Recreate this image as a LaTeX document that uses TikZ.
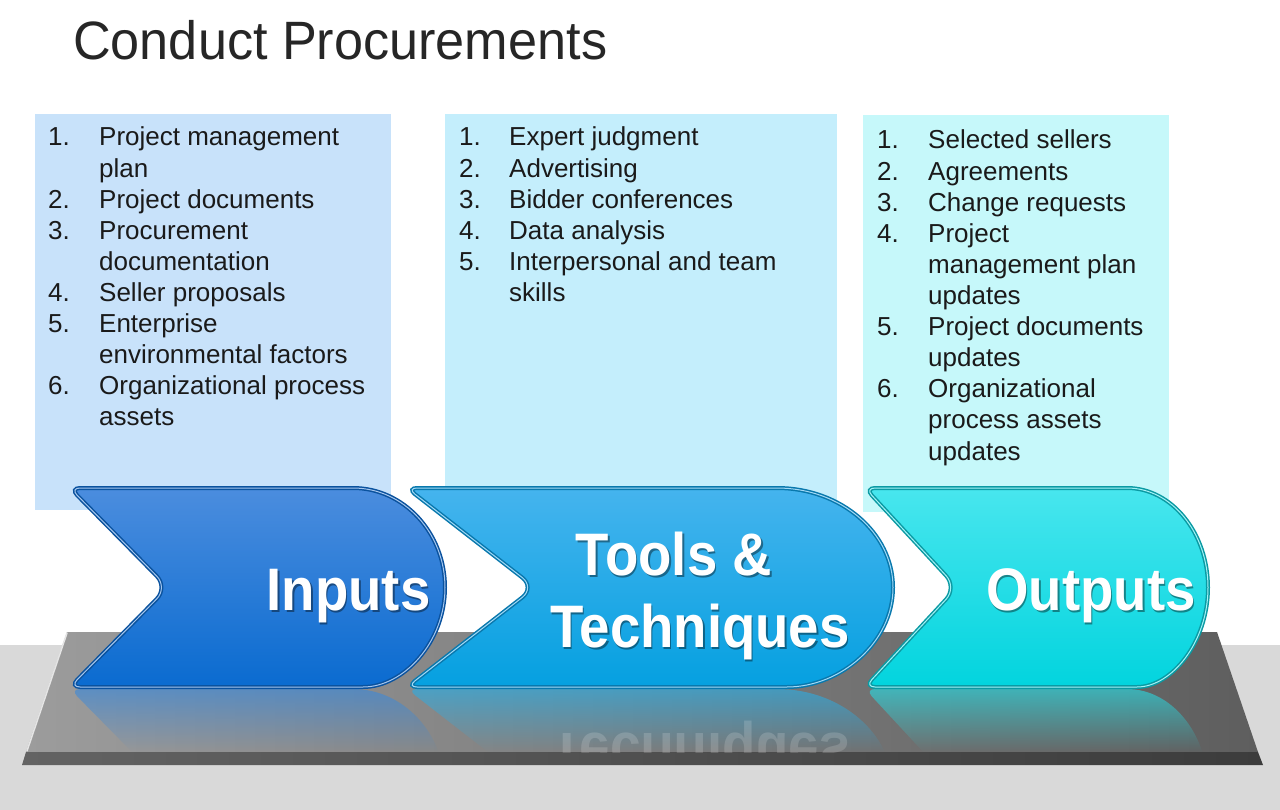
\documentclass[tikz,border=0pt]{standalone}
\usepackage{fontspec}
\setmainfont{Liberation Sans}
\newfontfamily\lblfont[FakeStretch=0.91]{Liberation Sans}
\newfontfamily\ttlfont[FakeStretch=0.967]{Liberation Sans}
\usetikzlibrary{fadings}

\definecolor{boxA}{HTML}{C8E2FA}
\definecolor{boxB}{HTML}{C4EEFC}
\definecolor{boxC}{HTML}{C6F8FA}
\definecolor{inTop}{HTML}{4B8DDE}
\definecolor{inBot}{HTML}{0A6BD0}
\definecolor{inEdge}{HTML}{0A529E}
\definecolor{tlTop}{HTML}{45B4EE}
\definecolor{tlBot}{HTML}{05A0E0}
\definecolor{tlEdge}{HTML}{0878AD}
\definecolor{ouTop}{HTML}{48E6EE}
\definecolor{ouBot}{HTML}{02D4DE}
\definecolor{ouEdge}{HTML}{0A9AA3}
\definecolor{plL}{HTML}{9C9C9C}
\definecolor{plR}{HTML}{5E5E5E}
\definecolor{plEdge}{HTML}{3C3C3C}
\definecolor{floorc}{HTML}{D9D9D9}
\definecolor{txtc}{HTML}{1A1A1A}
\definecolor{ttlc}{HTML}{262626}

\tikzfading[name=reflfade, top color=transparent!35, bottom color=transparent!100]

% #1 left, #2 notch, #3 straight end, #4 tip, #5 top, #6 mid, #7 bottom
\newcommand{\chevpath}[7]{({#4},{#6}) .. controls ({#4},{#6-0.55*(#6-#5)}) and ({#3+0.55*(#4-#3)},{#5}) .. ({#3},{#5})
  [rounded corners=10] -- ({#1},{#5}) [rounded corners=16] -- ({#2},{#6}) [rounded corners=10] -- ({#1},{#7}) -- ({#3},{#7}) [sharp corners]
  .. controls ({#3+0.55*(#4-#3)},{#7}) and ({#4},{#6+0.55*(#7-#6)}) .. ({#4},{#6}) -- cycle}

\tikzset{
  litem/.style={anchor=base west, inner sep=0pt, text=txtc, font=\fontsize{26}{31}\selectfont},
  lbl/.style={anchor=base, inner sep=0pt, text=white, font=\lblfont\bfseries\fontsize{60}{60}\selectfont},
  lblsh/.style={lbl, text=black, text opacity=0.4},
  chev/.style={double distance=1pt, line width=1.5pt},
}

\begin{document}
\begin{tikzpicture}[x=1pt,y=-1pt]
\useasboundingbox (0,0) rectangle (1280,810);
\fill[white] (0,0) rectangle (1280,810);
% floor
\fill[floorc] (0,645) rectangle (1280,810);

% title
\node[anchor=base west, inner sep=0pt, text=ttlc, font=\ttlfont\fontsize{54}{60}\selectfont] (title) at (73,60) {Conduct Procurements};

% list boxes
\fill[boxA] (35,114) rectangle (391,510);
\fill[boxB] (445,114) rectangle (837,510);
\fill[boxC] (863,115) rectangle (1169,512);

% inputs list
\foreach \t [count=\i from 0] in {Project management, plan, Project documents, Procurement, documentation, Seller proposals, Enterprise, environmental factors, Organizational process, assets}
  \node[litem] (a\i) at (99,{146+31.1*\i}) {\t};
\foreach \n/\r in {1/0,2/2,3/3,4/5,5/6,6/8}
  \node[litem] (an\n) at (48,{146+31.1*\r}) {\n.};

% tools list
\foreach \t [count=\i from 0] in {Expert judgment, Advertising, Bidder conferences, Data analysis, Interpersonal and team, skills}
  \node[litem] (b\i) at (509,{146+31.1*\i}) {\t};
\foreach \n/\r in {1/0,2/1,3/2,4/3,5/4}
  \node[litem] (bn\n) at (459,{146+31.1*\r}) {\n.};

% outputs list
\foreach \t [count=\i from 0] in {Selected sellers, Agreements, Change requests, Project, management plan, updates, Project documents, updates, Organizational, process assets, updates}
  \node[litem] (c\i) at (928,{149+31.1*\i}) {\t};
\foreach \n/\r in {1/0,2/1,3/2,4/3,5/6,6/8}
  \node[litem] (cn\n) at (877,{149+31.1*\r}) {\n.};

% platform
\shade[left color=plL, right color=plR] (67,632) -- (1217,632) -- (1258,752) -- (26,752) -- cycle;
\shade[left color=plEdge!80!white, right color=plEdge] (26,752) -- (1258,752) -- (1263,765) -- (22,765) -- cycle;
\draw[white!80!gray, line width=1.5pt, line cap=round] (67,633) -- (27,751);

% reflections
\begin{scope}
  \clip (60,688) rectangle (1230,752);
  \begin{scope}
    \clip \chevpath{70}{168}{353}{445}{689}{788.5}{888};
    \fill[inBot!80!white, path fading=reflfade] (60,688) rectangle (460,752);
  \end{scope}
  \begin{scope}
    \clip \chevpath{407}{535}{777}{893}{689}{788.5}{888};
    \fill[tlBot!85!white, path fading=reflfade] (400,688) rectangle (900,752);
    \node[lbl, yscale=-1, text opacity=0.16] (techr) at (700,733) {Techniques};
  \end{scope}
  \begin{scope}
    \clip \chevpath{865}{957}{1127}{1208}{689}{788.5}{888};
    \fill[ouBot!85!white, path fading=reflfade] (860,688) rectangle (1215,752);
  \end{scope}
\end{scope}

% chevrons
\path[chev, top color=ouTop, bottom color=ouBot, draw=ouEdge, double=ouTop!50!white]
  \chevpath{865}{957}{1127}{1208}{488}{587.5}{687};
\path[chev, top color=tlTop, bottom color=tlBot, draw=tlEdge, double=tlTop!50!white]
  \chevpath{407}{535}{777}{893}{488}{587.5}{687};
\path[chev, top color=inTop, bottom color=inBot, draw=inEdge, double=inTop!50!white]
  \chevpath{70}{168}{353}{445}{488}{587.5}{687};

% labels
\node[lblsh] (inps) at (350,612) {Inputs};
\node[lbl] (inp) at (348.5,610) {Inputs};
\node[lblsh] (tl1s) at (675.5,577) {Tools \&};
\node[lbl] (tl1) at (674,575) {Tools \&};
\node[lblsh] (tl2s) at (701.5,649) {Techniques};
\node[lbl] (tl2) at (700,647) {Techniques};
\node[lblsh] (outs) at (1092.5,612) {Outputs};
\node[lbl] (out) at (1091,610) {Outputs};
\end{tikzpicture}
\end{document}
